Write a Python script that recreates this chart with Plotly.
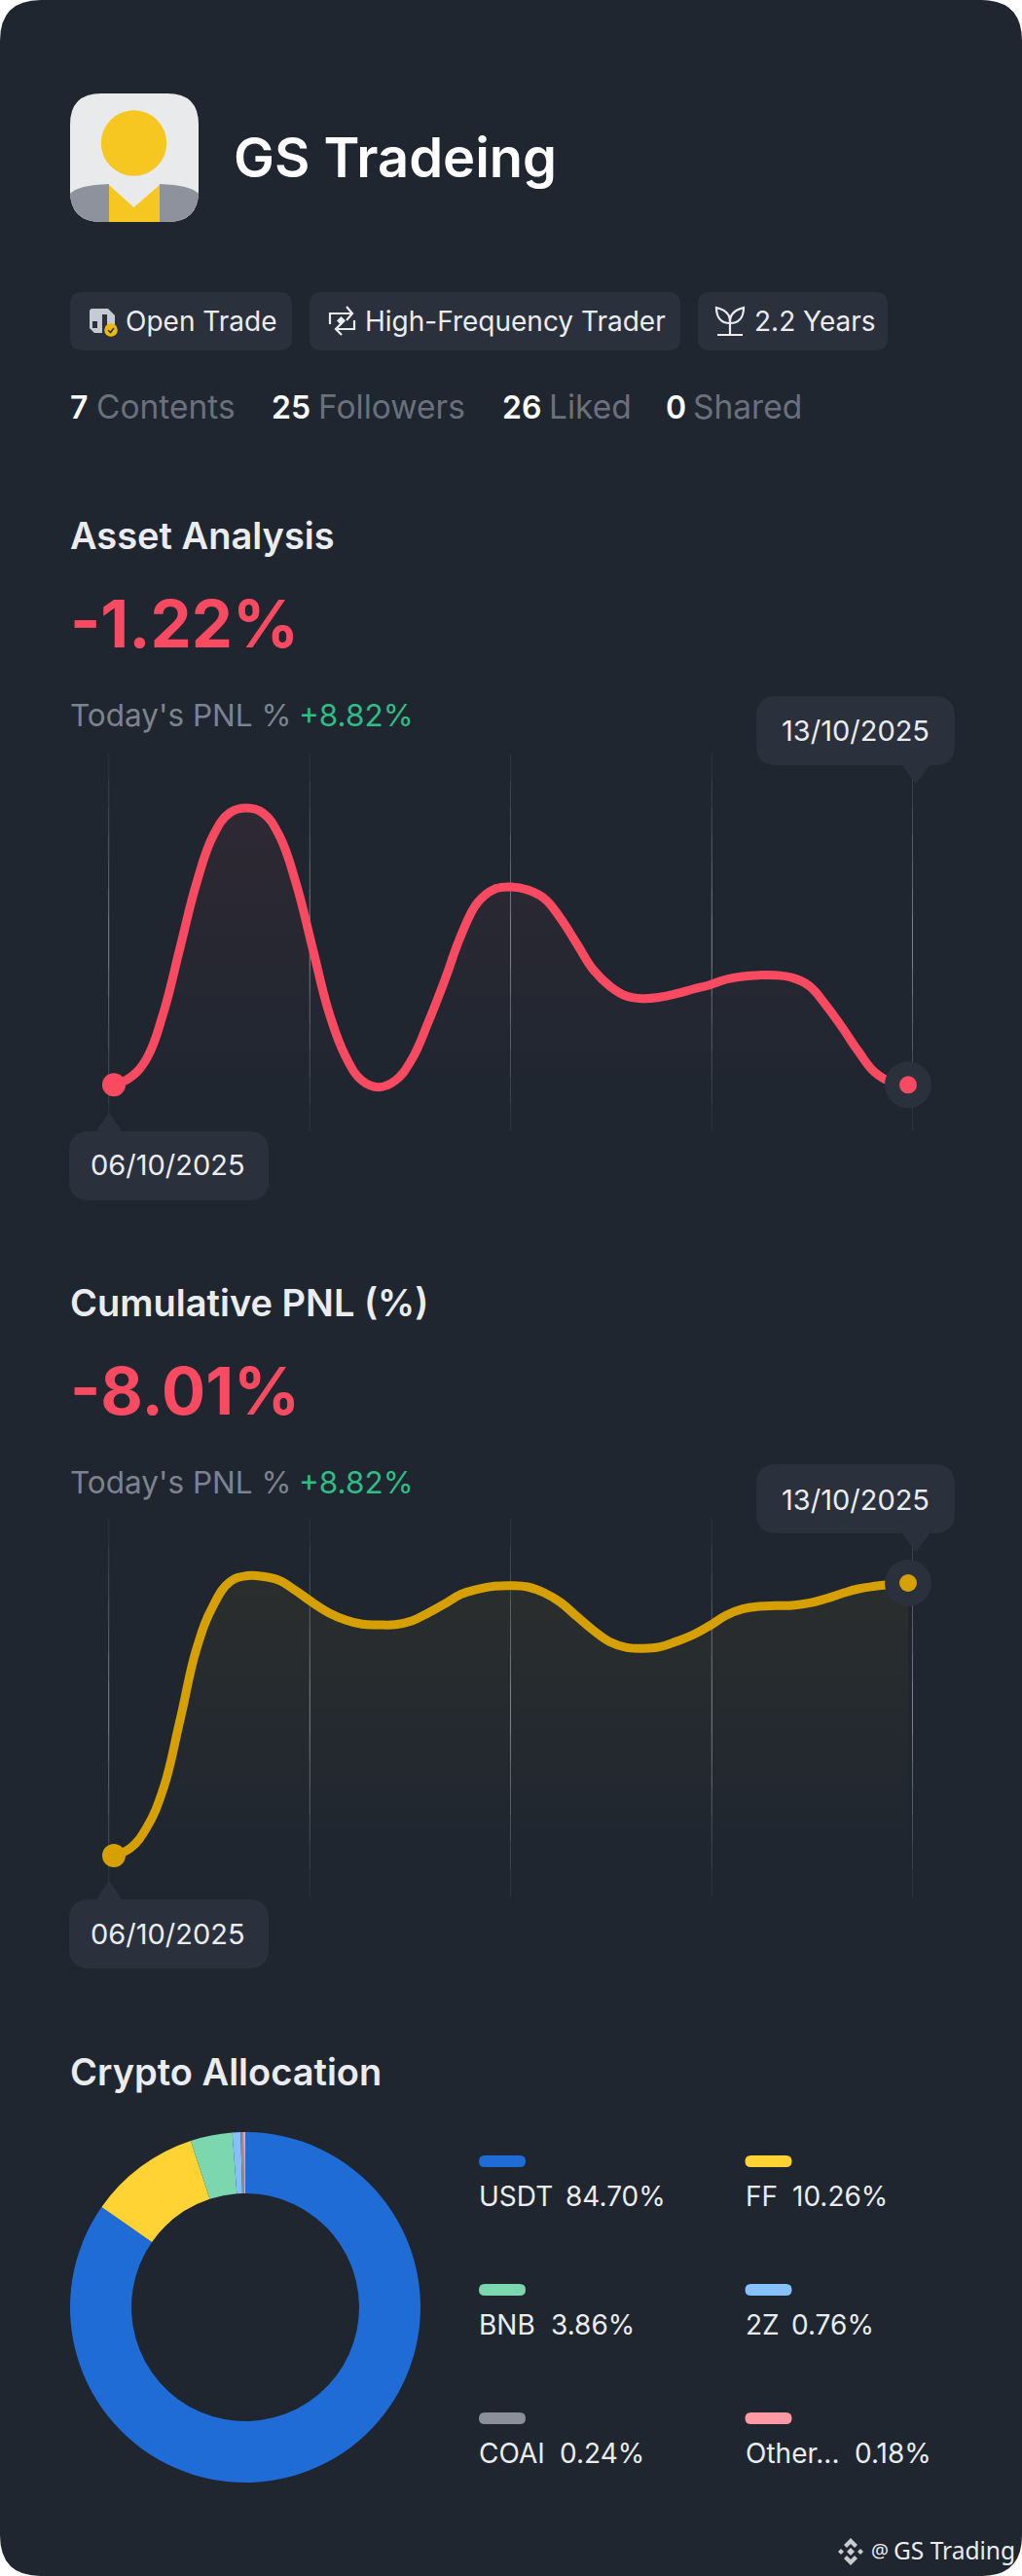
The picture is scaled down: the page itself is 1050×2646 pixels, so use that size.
import re
import plotly.graph_objects as go

W = 1050
H = 2646

# ---- data ----
# curve heights estimated off the zoomed picture, every 1/8 of a step (17 px)
steps = [i / 8 for i in range(49)]
asset_values = [47.7, 55.3, 75.3, 122, 188.7, 255.3, 303.7, 327, 332, 327, 303.7, 255.3, 188.7,
                122, 77, 52, 45.3, 52, 73.7, 112, 155.3, 202, 235.3, 248.7, 251,
                248, 239.3, 218.7, 192, 165.3, 148.7, 138.7, 136.3, 137.7, 141.3, 146, 150.3,
                156, 159, 160.3, 160.3, 157.7, 149.7, 130.3, 107, 82, 60.3, 50.3, 47.7]
cumulative_values = [42, 49.7, 71.3, 111.3, 181.3, 254.7, 298.7, 323, 329.3, 328.7, 324.7, 314, 302,
                     291.3, 284, 279.7, 279, 279.3, 283, 291.3, 300.7, 310.7, 315.7, 318.7, 319.3,
                     318, 312, 302, 287.3, 273, 261.3, 255.7, 254.7, 256.3, 262, 268.7, 278,
                     288.7, 295.3, 298, 298.7, 299, 301.3, 305.7, 311.3, 316, 318.7, 320.7, 322]
coins = ["USDT", "FF", "BNB", "2Z", "COAI", "Other..."]
coin_share = [84.70, 10.26, 3.86, 0.76, 0.24, 0.18]
coin_colors = ["#1F6CD6", "#FFD333", "#7CD6AE", "#85C1FF", "#8A8F9A", "#FF9AA5"]
chips = ["Open Trade", "High-Frequency Trader", "2.2 Years"]
stat_numbers = ["7", "25", "26", "0"]
stat_names = ["Contents", "Followers", "Liked", "Shared"]
date_start = "06/10/2025"
date_end = "13/10/2025"

# ---- colours and fonts ----
BG = "#1F2630"
CHIP = "#2A313C"
RED = "#F94A62"
GOLD = "#D6A100"
GREEN = "#2EBD85"
GREY = "#7D838E"
LIGHT = "#EAECEF"
FONT = "Inter"


def fx(x):
    return x / W


def fy(y):
    return 1 - y / H


def to_paper(path):
    # path written in page pixels, only M L Q C Z
    out = []
    i = 0
    for tok in re.findall(r"[MLQCZ]|-?[\d.]+", path):
        if tok in "MLQCZ":
            out.append(tok)
        else:
            out.append(str(fx(float(tok)) if i % 2 == 0 else fy(float(tok))))
            i += 1
    return " ".join(out)


def rrect_path(x0, y0, x1, y1, r):
    return (f"M {x0+r} {y0} L {x1-r} {y0} Q {x1} {y0} {x1} {y0+r} L {x1} {y1-r} "
            f"Q {x1} {y1} {x1-r} {y1} L {x0+r} {y1} Q {x0} {y1} {x0} {y1-r} "
            f"L {x0} {y0+r} Q {x0} {y0} {x0+r} {y0} Z")


shapes = []
notes = []


def fill_path(path, color, layer="below"):
    shapes.append(dict(type="path", xref="paper", yref="paper", path=to_paper(path),
                       fillcolor=color, line=dict(width=0), layer=layer))


def stroke_path(path, color, width=2.2, layer="below"):
    shapes.append(dict(type="path", xref="paper", yref="paper", path=to_paper(path),
                       line=dict(color=color, width=width), layer=layer))


def circle(cx, cy, r, color, layer="below"):
    shapes.append(dict(type="circle", xref="paper", yref="paper",
                       x0=fx(cx - r), x1=fx(cx + r), y0=fy(cy + r), y1=fy(cy - r),
                       fillcolor=color, line=dict(width=0), layer=layer))


def text(x, y, s, size, color, weight=400, anchor="left", family=FONT):
    notes.append(dict(xref="paper", yref="paper", x=fx(x), y=fy(y), text=s, showarrow=False,
                      xanchor=anchor, yanchor="middle", borderpad=0, borderwidth=0,
                      font=dict(family=family, size=size, color=color, weight=weight)))


# card
fill_path(rrect_path(0, 0, W, H, 42), BG)

# avatar
fill_path(rrect_path(72, 96, 204, 228, 32), "#E9EAEC")
circle(137.5, 147, 33.7, "#F6C720")
fill_path("M 72 199 Q 80 190 112 189 L 112 228 L 104 228 Q 74 228 72 199 Z", "#8D929C")
fill_path("M 204 199 Q 196 190 164 189 L 164 228 L 172 228 Q 202 228 204 199 Z", "#8D929C")
fill_path("M 112 190 L 137.5 213 L 164 190 L 164 228 L 112 228 Z", "#F6C720")
text(240, 162, "GS Tradeing", 56, "#FFFFFF", 600)

# chips
chip_boxes = [(72, 300), (318, 699), (717, 912)]
chip_text_x = [129, 375, 775]
for (x0, x1), label, tx in zip(chip_boxes, chips, chip_text_x):
    fill_path(rrect_path(x0, 300, x1, 360, 13), CHIP)
    text(tx, 330, label, 28, LIGHT)

# chip icon: open trade
fill_path("M 92 320 Q 92 317 95 317 L 111 317 L 118 324 L 118 342 L 97 342 L 92 337 Z", "#C6CAD2")
fill_path("M 95 330 L 100 330 L 100 337 L 95 337 Z", CHIP)
fill_path("M 105 323 L 110 323 L 110 342 L 105 342 Z", CHIP)
circle(114, 339, 6.8, "#F0B90B")
stroke_path("M 111 339 L 113.5 341.5 L 117 337", CHIP, 1.5)
# chip icon: high frequency
stroke_path("M 339 333 L 339 322 L 362 322 M 356 315 L 362 322 L 356 329", LIGHT)
stroke_path("M 364 329 L 364 338 L 346 338 M 351 332 L 345 338 L 351 344", LIGHT)
fill_path("M 350.5 325 L 355 329.5 L 350.5 334 L 346 329.5 Z", LIGHT)
# chip icon: sprout
stroke_path("M 737 344 L 763 344 M 750 344 L 750 326", LIGHT)
stroke_path("M 750 332 C 741 332 736 326 736 316 C 744 318 750 322 750 330", LIGHT)
stroke_path("M 750 332 C 759 332 764 326 764 316 C 756 318 750 322 750 330", LIGHT)

# stats
stat_num_x = [72, 279, 516, 684]
stat_name_x = [99, 327, 564, 712]
for n, s, nx, sx in zip(stat_numbers, stat_names, stat_num_x, stat_name_x):
    text(nx, 418, n, 32, "#FFFFFF", 600)
    text(sx, 418, s, 33.5, "#6A707C")


def section(top, title, big, plot_top):
    text(72, top, title, 38, LIGHT, 600)
    text(72, top + 90, big, 67, RED, 700)
    text(72, top + 184, "Today's PNL %", 31.5, GREY)
    text(307, top + 184, "+8.82%", 31.5, GREEN)
    # fading vertical guide lines
    for gx in [111.7, 318.3, 524.5, 731.3, 937.5]:
        n = 14
        seg = 388 / n
        for k in range(n):
            a = 0.07 + 0.43 * (1 - abs(k - (n - 1) / 2) / ((n - 1) / 2))
            shapes.append(dict(type="line", xref="paper", yref="paper", x0=fx(gx), x1=fx(gx),
                               y0=fy(plot_top + k * seg), y1=fy(plot_top + (k + 1) * seg),
                               line=dict(color=f"rgba(234,236,239,{a:.2f})", width=1), layer="below"))


def tooltips(end_y0, low_y0):
    # end tooltip above, start tooltip below
    fill_path(rrect_path(777, end_y0, 981, end_y0 + 71, 21), CHIP, "above")
    fill_path(f"M 926 {end_y0+70} L 956 {end_y0+70} L 942 {end_y0+89} L 940 {end_y0+89} Z", CHIP, "above")
    text(879, end_y0 + 36, date_end, 29, LIGHT)
    notes[-1]["xanchor"] = "center"
    fill_path(rrect_path(71, low_y0, 276, low_y0 + 71, 21), CHIP, "above")
    fill_path(f"M 98 {low_y0+1} L 126 {low_y0+1} L 113 {low_y0-18} L 111 {low_y0-18} Z", CHIP, "above")
    text(173, low_y0 + 35, date_start, 29, LIGHT)
    notes[-1]["xanchor"] = "center"


section(550, "Asset Analysis", "-1.22%", 774)
tooltips(715, 1162)
section(1338, "Cumulative PNL (%)", "-8.01%", 1560)
tooltips(1504, 1951)

# allocation
text(72, 2128, "Crypto Allocation", 38, LIGHT, 600)
legend_x = [492, 765.5]
legend_row_y = [2214, 2346, 2478]
pct_x = [581, 814, 566, 813, 575, 878]
for i, (name, share, col) in enumerate(zip(coins, coin_share, coin_colors)):
    lx = legend_x[i % 2]
    ly = legend_row_y[i // 2]
    fill_path(rrect_path(lx, ly, lx + 48, ly + 12, 6), col)
    text(lx, ly + 42, name, 28, LIGHT)
    text(pct_x[i], ly + 42, f"{share:.2f}%", 28, LIGHT)

# watermark
logo = "#C9CBCF"
fill_path("M 874 2607 L 881 2614 L 878 2617 L 874 2613 L 870 2617 L 867 2614 Z", logo)
fill_path("M 874 2635 L 881 2628 L 878 2625 L 874 2629 L 870 2625 L 867 2628 Z", logo)
fill_path("M 874 2617 L 878 2621 L 874 2625 L 870 2621 Z", logo)
fill_path("M 861 2621 L 864 2618 L 867 2621 L 864 2624 Z", logo)
fill_path("M 887 2621 L 884 2618 L 881 2621 L 884 2624 Z", logo)
text(895, 2619, "@", 20, LIGHT, family="Noto Sans")
text(918, 2619, "GS Trading", 24.5, LIGHT, family="Noto Sans")

fig = go.Figure()


def add_curve(values, color, rgb, top_alpha, axis, fade_stop):
    xa, ya = axis
    fig.add_trace(go.Scatter(x=steps, y=values, mode="lines", xaxis=xa, yaxis=ya,
                             line=dict(color=color, width=9, shape="spline", smoothing=1.2, simplify=False),
                             fill="tozeroy",
                             fillgradient=dict(type="vertical", start=max(values), stop=fade_stop,
                                               colorscale=[[0, f"rgba({rgb},{top_alpha})"], [1, f"rgba({rgb},0)"]]),
                             hoverinfo="skip", showlegend=False))
    # start dot, end halo, end dot
    fig.add_trace(go.Scatter(x=[steps[0]], y=[values[0]], mode="markers", xaxis=xa, yaxis=ya,
                             marker=dict(size=24, color=color), hoverinfo="skip", showlegend=False))
    fig.add_trace(go.Scatter(x=[steps[-1]], y=[values[-1]], mode="markers", xaxis=xa, yaxis=ya,
                             marker=dict(size=48, color=CHIP), hoverinfo="skip", showlegend=False))
    fig.add_trace(go.Scatter(x=[steps[-1]], y=[values[-1]], mode="markers", xaxis=xa, yaxis=ya,
                             marker=dict(size=18, color=color), hoverinfo="skip", showlegend=False))


add_curve(asset_values, RED, "249,74,98", 0.07, ("x", "y"), 34)
add_curve(cumulative_values, GOLD, "214,161,0", 0.065, ("x2", "y2"), 40)

fig.add_trace(go.Pie(labels=coins, values=coin_share, hole=0.65, sort=False, direction="clockwise",
                     rotation=0, marker=dict(colors=coin_colors, line=dict(width=0)),
                     textinfo="none", hoverinfo="skip", showlegend=False,
                     domain=dict(x=[fx(72), fx(432)], y=[fy(2550), fy(2190)])))

# 0..6 sits on 117..933 px, axis spans the whole page width
x_range = [(0 - 117) / 136, (W - 117) / 136]
axis_off = dict(visible=False, fixedrange=True)
fig.update_layout(
    width=W, height=H,
    margin=dict(l=0, r=0, t=0, b=0),
    paper_bgcolor="#FFFFFF", plot_bgcolor="rgba(0,0,0,0)",
    xaxis=dict(domain=[0, 1], range=x_range, anchor="y", **axis_off),
    yaxis=dict(domain=[fy(1162), fy(774)], range=[0, 388], anchor="x", **axis_off),
    xaxis2=dict(domain=[0, 1], range=x_range, anchor="y2", **axis_off),
    yaxis2=dict(domain=[fy(1948), fy(1560)], range=[0, 388], anchor="x2", **axis_off),
    shapes=shapes, annotations=notes, showlegend=False,
)

fig.write_html("out.html", config=dict(displayModeBar=False),
               post_script="document.body.style.margin='0';")
